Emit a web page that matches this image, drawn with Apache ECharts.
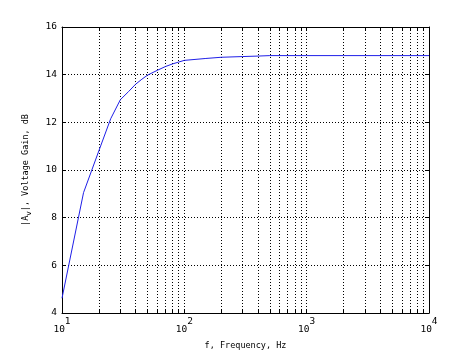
<!DOCTYPE html>
<html><head><meta charset="utf-8">
<script src="https://cdn.jsdelivr.net/npm/echarts@6/dist/echarts.min.js"></script>
<style>html,body{margin:0;padding:0;background:#fff}#c{width:474px;height:355px}</style>
</head><body><div id="c"></div>
<script>
const freq = [10, 15, 20, 25, 30, 35, 40, 45, 50, 60, 70, 80, 90, 100, 150, 200, 300, 400, 500, 1000, 2000, 5000, 10000];
const gain = [4.62, 9.05, 10.8, 12.15, 12.95, 13.29, 13.6, 13.81, 13.98, 14.18, 14.34, 14.45, 14.53, 14.6, 14.68, 14.73, 14.76, 14.78, 14.8, 14.8, 14.8, 14.8, 14.8];
const xMajor = [10, 100, 1000, 10000];
const xTicks = [10,20,30,40,50,60,70,80,90,100,200,300,400,500,600,700,800,900,1000,2000,3000,4000,5000,6000,7000,8000,9000,10000];
const yTicks = [4, 6, 8, 10, 12, 14, 16];
const xName = 'f, Frequency, Hz';

const FONT = 'DejaVu Sans Mono';
const chart = echarts.init(document.getElementById('c'), null, {renderer: 'canvas'});
const gridLine = {show: true, lineStyle: {color: '#000', width: 1, type: [1, 2]}};
const expFmt = v => '{b|10}{e|' + Math.round(Math.log10(v)) + '}';
function xAxisCfg(pos, labels) {
  return {
    type: 'log', logBase: 10, min: 10, max: 10000, position: pos,
    axisLine: {show: true, onZero: false, lineStyle: {color: '#000', width: 1}},
    axisTick: {show: true, inside: true, length: 4, customValues: xTicks, lineStyle: {color: '#000'}},
    axisLabel: labels ? {
      show: true, customValues: xMajor, formatter: expFmt, margin: 4,
      rich: {
        b: {fontFamily: FONT, fontSize: 9.5, color: '#000', lineHeight: 18, verticalAlign: 'bottom'},
        e: {fontFamily: FONT, fontSize: 9.5, color: '#000', lineHeight: 18, verticalAlign: 'top'}
      }
    } : {show: false},
    splitLine: labels ? gridLine : {show: false},
    name: labels ? xName : '', nameLocation: 'middle', nameGap: 28,
    nameTextStyle: {fontFamily: FONT, fontSize: 8.5, color: '#000'}
  };
}
function yAxisCfg(pos, labels) {
  return {
    type: 'value', min: 4, max: 16, interval: 2, position: pos,
    axisLine: {show: true, lineStyle: {color: '#000', width: 1}},
    axisTick: {show: true, inside: true, length: 4, lineStyle: {color: '#000'}},
    axisLabel: labels ? {show: true, fontFamily: FONT, fontSize: 9.5, color: '#000', margin: 5,
      customValues: yTicks} : {show: false},
    splitLine: labels ? gridLine : {show: false},
    name: labels ? '{t||A}{s|v}{t||, Voltage Gain, dB}' : '',
    nameLocation: 'middle', nameGap: 29,
    nameTextStyle: {rich: {
      t: {fontFamily: FONT, fontSize: 8.5, color: '#000', lineHeight: 14, verticalAlign: 'middle'},
      s: {fontFamily: FONT, fontSize: 7.5, color: '#000', lineHeight: 14, verticalAlign: 'bottom'}
    }}
  };
}
chart.setOption({
  animation: false,
  backgroundColor: '#fff',
  grid: {left: 62, right: 45, top: 27, bottom: 39, containLabel: false},
  xAxis: [xAxisCfg('bottom', true), xAxisCfg('top', false)],
  yAxis: [yAxisCfg('left', true), yAxisCfg('right', false)],
  series: [{
    type: 'line', xAxisIndex: 0, yAxisIndex: 0,
    data: freq.map((f, i) => [f, gain[i]]),
    showSymbol: false, smooth: false,
    lineStyle: {color: '#1f1fe8', width: 1}
  }]
});
</script></body></html>
